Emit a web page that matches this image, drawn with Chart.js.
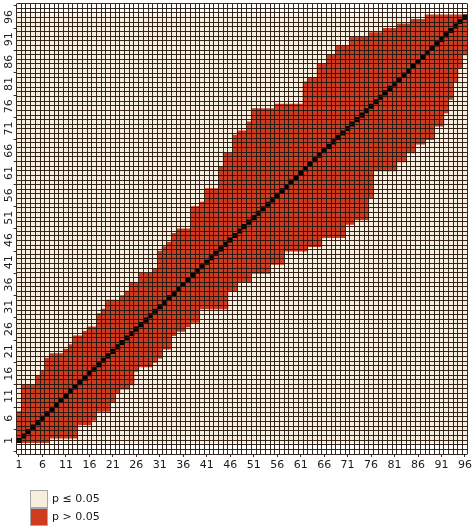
<!DOCTYPE html>
<html>
<head>
<meta charset="utf-8">
<script src="https://cdn.jsdelivr.net/npm/chart.js@4.4.1/dist/chart.umd.min.js"></script>
<style>
  html, body { margin: 0; padding: 0; background: #fff; }
  #wrap { width: 474px; height: 526px; }
</style>
</head>
<body>
<div id="wrap"><canvas id="pmap"></canvas></div>
<script>
// rows 1..96 : first / last column of the p > 0.05 run
const rowStart = [
  1, 1, 1, 1, 1, 1, 1, 2, 2, 2, 2, 2, 2, 5, 5, 6, 7, 7, 7, 8,
  11, 12, 13, 13, 15, 16, 18, 18, 18, 19, 20, 20, 23, 24, 25, 25, 27, 27, 30, 31,
  31, 31, 31, 32, 33, 34, 34, 35, 38, 38, 38, 38, 38, 40, 41, 41, 41, 44, 44, 44,
  44, 44, 45, 45, 45, 47, 47, 47, 47, 48, 50, 50, 51, 51, 51, 56, 62, 62, 62, 62,
  62, 63, 65, 65, 65, 67, 67, 69, 69, 72, 72, 76, 79, 82, 85, 88
];
const rowEnd = [
  7, 13, 13, 13, 16, 17, 17, 20, 20, 21, 21, 22, 24, 25, 25, 25, 26, 29, 30, 31,
  31, 33, 33, 33, 34, 36, 37, 39, 39, 39, 45, 45, 45, 45, 47, 47, 50, 50, 54, 54,
  57, 57, 57, 62, 65, 65, 70, 70, 70, 72, 75, 75, 75, 75, 75, 76, 76, 76, 76, 76,
  76, 81, 81, 83, 83, 85, 85, 87, 89, 89, 89, 91, 91, 91, 92, 92, 92, 93, 93, 93,
  93, 94, 94, 94, 95, 95, 95, 96, 96, 96, 96, 96, 96, 96, 96, 96
];
const tickLabels = [1, 6, 11, 16, 21, 26, 31, 36, 41, 46, 51, 56, 61, 66, 71, 76, 81, 86, 91, 96];
const legendLabels = ["p \u2264 0.05", "p > 0.05"];

const rows = rowStart.map((_, k) => k + 1);
const cellEdges = [0.5].concat(rows.map((r) => r + 0.5));

const cream = "#f6efdf";
const red = "#cf3b1f";
const lineCol = "rgba(38,22,12,0.92)";
const tickFont = { family: "DejaVu Sans", size: 11 };

Chart.defaults.font.family = "DejaVu Sans";

// legend: two stacked boxes under the x axis
const pLegend = {
  id: "pLegend",
  afterDraw(chart) {
    const ctx = chart.ctx;
    const sets = chart.data.datasets;
    ctx.save();
    ctx.font = "11px 'DejaVu Sans'";
    ctx.textBaseline = "middle";
    for (let k = 0; k < 2; k++) {
      const top = 490 + k * 18;
      ctx.fillStyle = sets[k].backgroundColor;
      ctx.fillRect(30, top, 18, 18);
      ctx.strokeStyle = "#a8a8a8";
      ctx.lineWidth = 1;
      ctx.strokeRect(30.5, top + 0.5, 17, 17);
      ctx.fillStyle = "#1a1a1a";
      ctx.fillText(sets[k].label, 52, top + 9);
    }
    ctx.restore();
  },
};

new Chart(document.getElementById("pmap"), {
  type: "bar",
  data: {
    datasets: [
      {
        label: legendLabels[0],
        data: rows.map((r) => ({ y: r, x: [0.5, 96.5] })),
        backgroundColor: cream,
        order: 3,
      },
      {
        label: legendLabels[1],
        data: rows.map((r, k) => ({ y: r, x: [rowStart[k] - 0.5, rowEnd[k] + 0.5] })),
        backgroundColor: red,
        order: 2,
      },
      {
        label: "diagonal",
        data: rows.map((r) => ({ y: r, x: [r - 0.5, r + 0.5] })),
        backgroundColor: "#000000",
        order: 1,
      },
    ],
  },
  options: {
    indexAxis: "y",
    responsive: true,
    maintainAspectRatio: false,
    animation: false,
    events: [],
    layout: { padding: { top: 2.6, right: 1.7, left: 0, bottom: 0 } },
    datasets: {
      bar: { grouped: false, barPercentage: 1, categoryPercentage: 1, borderWidth: 0 },
    },
    plugins: { legend: { display: false }, tooltip: { enabled: false } },
    scales: {
      x: {
        type: "linear",
        min: 0.5,
        max: 96.5,
        afterBuildTicks: (s) => { s.ticks = tickLabels.map((v) => ({ value: v })); },
        afterFit: (s) => { s.height = 72; },
        grid: { drawOnChartArea: false, tickLength: 3, color: "#333" },
        border: { display: false },
        ticks: { font: tickFont, color: "#1a1a1a", padding: 2, maxRotation: 0, autoSkip: false },
      },
      y: {
        type: "linear",
        min: 0.5,
        max: 96.5,
        afterBuildTicks: (s) => { s.ticks = tickLabels.map((v) => ({ value: v })); },
        afterFit: (s) => { s.width = 16.6; },
        grid: { drawOnChartArea: false, tickLength: 3, color: "#333" },
        border: { display: false },
        ticks: { font: tickFont, color: "#1a1a1a", padding: -3, minRotation: 90, maxRotation: 90, crossAlign: "center", autoSkip: false },
      },
      gx: {
        type: "linear",
        axis: "x",
        position: "bottom",
        min: 0.5,
        max: 96.5,
        afterBuildTicks: (s) => { s.ticks = cellEdges.map((v) => ({ value: v })); },
        afterFit: (s) => { s.height = 0; },
        grid: { z: 1, color: lineCol, lineWidth: 1, drawTicks: false },
        border: { display: false },
        ticks: { display: false },
      },
      gy: {
        type: "linear",
        axis: "y",
        position: "left",
        min: 0.5,
        max: 96.5,
        afterBuildTicks: (s) => { s.ticks = cellEdges.map((v) => ({ value: v })); },
        afterFit: (s) => { s.width = 0; },
        grid: { z: 1, color: lineCol, lineWidth: 1, drawTicks: false },
        border: { display: false },
        ticks: { display: false },
      },
    },
  },
  plugins: [pLegend],
});
</script>
</body>
</html>
